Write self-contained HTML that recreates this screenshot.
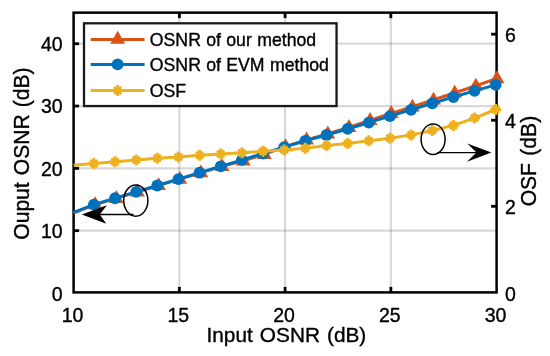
<!DOCTYPE html>
<html><head><meta charset="utf-8"><title>OSNR chart</title><style>html,body{margin:0;padding:0;background:#fff}svg{display:block}</style></head><body>
<svg width="550" height="356" viewBox="0 0 550 356" font-family="Liberation Sans, Arial, sans-serif"><style>text{stroke:#000;stroke-width:0.35px;fill:#000}</style>
<rect width="550" height="356" fill="#fff"/>
<line x1="179.35" y1="12.65" x2="179.35" y2="292.4" stroke="#000" stroke-opacity="0.15" stroke-width="2.2"/>
<line x1="285.10" y1="12.65" x2="285.10" y2="292.4" stroke="#000" stroke-opacity="0.15" stroke-width="2.2"/>
<line x1="390.85" y1="12.65" x2="390.85" y2="292.4" stroke="#000" stroke-opacity="0.15" stroke-width="2.2"/>
<line x1="73.6" y1="230.68" x2="496.6" y2="230.68" stroke="#000" stroke-opacity="0.15" stroke-width="2.2"/>
<line x1="73.6" y1="168.36" x2="496.6" y2="168.36" stroke="#000" stroke-opacity="0.15" stroke-width="2.2"/>
<line x1="73.6" y1="106.04" x2="496.6" y2="106.04" stroke="#000" stroke-opacity="0.15" stroke-width="2.2"/>
<line x1="73.6" y1="43.72" x2="496.6" y2="43.72" stroke="#000" stroke-opacity="0.15" stroke-width="2.2"/>
<rect x="73.6" y="12.65" width="423.00" height="279.75" fill="none" stroke="#000" stroke-width="2.5"/>
<line x1="179.35" y1="292.4" x2="179.35" y2="286.9" stroke="#000" stroke-width="2.8"/>
<line x1="179.35" y1="12.65" x2="179.35" y2="18.15" stroke="#000" stroke-width="2.8"/>
<line x1="285.10" y1="292.4" x2="285.10" y2="286.9" stroke="#000" stroke-width="2.8"/>
<line x1="285.10" y1="12.65" x2="285.10" y2="18.15" stroke="#000" stroke-width="2.8"/>
<line x1="390.85" y1="292.4" x2="390.85" y2="286.9" stroke="#000" stroke-width="2.8"/>
<line x1="390.85" y1="12.65" x2="390.85" y2="18.15" stroke="#000" stroke-width="2.8"/>
<line x1="73.6" y1="230.68" x2="79.1" y2="230.68" stroke="#000" stroke-width="2.8"/>
<line x1="73.6" y1="168.36" x2="79.1" y2="168.36" stroke="#000" stroke-width="2.8"/>
<line x1="73.6" y1="106.04" x2="79.1" y2="106.04" stroke="#000" stroke-width="2.8"/>
<line x1="73.6" y1="43.72" x2="79.1" y2="43.72" stroke="#000" stroke-width="2.8"/>
<line x1="496.6" y1="206.32" x2="491.1" y2="206.32" stroke="#000" stroke-width="2.8"/>
<line x1="496.6" y1="120.25" x2="491.1" y2="120.25" stroke="#000" stroke-width="2.8"/>
<line x1="496.6" y1="34.17" x2="491.1" y2="34.17" stroke="#000" stroke-width="2.8"/>
<polyline points="73.60,213.23 93.85,204.97 115.00,198.59 136.15,192.20 157.30,185.81 178.45,179.42 199.60,173.03 220.75,166.65 241.90,161.19 263.05,154.81 284.20,146.86 305.35,140.16 326.50,134.08 347.65,127.70 368.80,120.69 389.95,113.67 411.10,107.29 432.25,100.28 453.40,93.26 474.55,86.25 495.70,78.93" fill="none" stroke="#d95319" stroke-width="3.0" stroke-linejoin="round"/>
<polygon points="95.15,196.37 87.70,209.27 102.60,209.27" fill="#d95319"/>
<polygon points="116.30,189.99 108.85,202.89 123.75,202.89" fill="#d95319"/>
<polygon points="137.45,183.60 130.00,196.50 144.90,196.50" fill="#d95319"/>
<polygon points="158.60,177.21 151.15,190.11 166.05,190.11" fill="#d95319"/>
<polygon points="179.75,170.82 172.30,183.72 187.20,183.72" fill="#d95319"/>
<polygon points="200.90,164.43 193.45,177.33 208.35,177.33" fill="#d95319"/>
<polygon points="222.05,158.05 214.60,170.95 229.50,170.95" fill="#d95319"/>
<polygon points="243.20,152.59 235.75,165.49 250.65,165.49" fill="#d95319"/>
<polygon points="264.35,146.21 256.90,159.11 271.80,159.11" fill="#d95319"/>
<polygon points="285.50,138.26 278.05,151.16 292.95,151.16" fill="#d95319"/>
<polygon points="306.65,131.56 299.20,144.46 314.10,144.46" fill="#d95319"/>
<polygon points="327.80,125.48 320.35,138.38 335.25,138.38" fill="#d95319"/>
<polygon points="348.95,119.10 341.50,132.00 356.40,132.00" fill="#d95319"/>
<polygon points="370.10,112.09 362.65,124.99 377.55,124.99" fill="#d95319"/>
<polygon points="391.25,105.07 383.80,117.97 398.70,117.97" fill="#d95319"/>
<polygon points="412.40,98.69 404.95,111.59 419.85,111.59" fill="#d95319"/>
<polygon points="433.55,91.68 426.10,104.58 441.00,104.58" fill="#d95319"/>
<polygon points="454.70,84.66 447.25,97.56 462.15,97.56" fill="#d95319"/>
<polygon points="475.85,77.65 468.40,90.55 483.30,90.55" fill="#d95319"/>
<polygon points="497.00,70.33 489.55,83.23 504.45,83.23" fill="#d95319"/>
<polyline points="73.60,212.30 93.85,204.66 115.00,198.27 136.15,191.89 157.30,185.50 178.45,179.11 199.60,172.72 220.75,166.33 241.90,159.95 263.05,153.56 284.20,147.17 305.35,140.78 326.50,135.02 347.65,128.94 368.80,122.55 389.95,116.17 411.10,109.78 432.25,103.39 453.40,97.00 474.55,90.93 495.70,84.85" fill="none" stroke="#0072bd" stroke-width="3.0" stroke-linejoin="round"/>
<circle cx="93.85" cy="204.66" r="5.9" fill="#0072bd"/>
<circle cx="115.00" cy="198.27" r="5.9" fill="#0072bd"/>
<circle cx="136.15" cy="191.89" r="5.9" fill="#0072bd"/>
<circle cx="157.30" cy="185.50" r="5.9" fill="#0072bd"/>
<circle cx="178.45" cy="179.11" r="5.9" fill="#0072bd"/>
<circle cx="199.60" cy="172.72" r="5.9" fill="#0072bd"/>
<circle cx="220.75" cy="166.33" r="5.9" fill="#0072bd"/>
<circle cx="241.90" cy="159.95" r="5.9" fill="#0072bd"/>
<circle cx="263.05" cy="153.56" r="5.9" fill="#0072bd"/>
<circle cx="284.20" cy="147.17" r="5.9" fill="#0072bd"/>
<circle cx="305.35" cy="140.78" r="5.9" fill="#0072bd"/>
<circle cx="326.50" cy="135.02" r="5.9" fill="#0072bd"/>
<circle cx="347.65" cy="128.94" r="5.9" fill="#0072bd"/>
<circle cx="368.80" cy="122.55" r="5.9" fill="#0072bd"/>
<circle cx="389.95" cy="116.17" r="5.9" fill="#0072bd"/>
<circle cx="411.10" cy="109.78" r="5.9" fill="#0072bd"/>
<circle cx="432.25" cy="103.39" r="5.9" fill="#0072bd"/>
<circle cx="453.40" cy="97.00" r="5.9" fill="#0072bd"/>
<circle cx="474.55" cy="90.93" r="5.9" fill="#0072bd"/>
<circle cx="495.70" cy="84.85" r="5.9" fill="#0072bd"/>
<polyline points="73.60,165.22 93.85,163.50 115.00,161.78 136.15,160.06 157.30,158.34 178.45,157.04 199.60,155.32 220.75,154.03 241.90,152.87 263.05,151.15 284.20,149.94 305.35,148.22 326.50,145.55 347.65,143.40 368.80,140.82 389.95,138.32 411.10,134.88 432.25,130.58 453.40,125.41 474.55,118.09 495.70,109.49" fill="none" stroke="#edb120" stroke-width="3.0" stroke-linejoin="round"/>
<path d="M88.35,163.50L99.35,163.50M90.35,160.00L97.35,167.00M93.85,158.00L93.85,169.00M97.35,160.00L90.35,167.00" stroke="#edb120" stroke-width="2.8" fill="none"/>
<path d="M109.50,161.78L120.50,161.78M111.50,158.28L118.50,165.28M115.00,156.28L115.00,167.28M118.50,158.28L111.50,165.28" stroke="#edb120" stroke-width="2.8" fill="none"/>
<path d="M130.65,160.06L141.65,160.06M132.65,156.56L139.65,163.56M136.15,154.56L136.15,165.56M139.65,156.56L132.65,163.56" stroke="#edb120" stroke-width="2.8" fill="none"/>
<path d="M151.80,158.34L162.80,158.34M153.80,154.84L160.80,161.84M157.30,152.84L157.30,163.84M160.80,154.84L153.80,161.84" stroke="#edb120" stroke-width="2.8" fill="none"/>
<path d="M172.95,157.04L183.95,157.04M174.95,153.54L181.95,160.54M178.45,151.54L178.45,162.54M181.95,153.54L174.95,160.54" stroke="#edb120" stroke-width="2.8" fill="none"/>
<path d="M194.10,155.32L205.10,155.32M196.10,151.82L203.10,158.82M199.60,149.82L199.60,160.82M203.10,151.82L196.10,158.82" stroke="#edb120" stroke-width="2.8" fill="none"/>
<path d="M215.25,154.03L226.25,154.03M217.25,150.53L224.25,157.53M220.75,148.53L220.75,159.53M224.25,150.53L217.25,157.53" stroke="#edb120" stroke-width="2.8" fill="none"/>
<path d="M236.40,152.87L247.40,152.87M238.40,149.37L245.40,156.37M241.90,147.37L241.90,158.37M245.40,149.37L238.40,156.37" stroke="#edb120" stroke-width="2.8" fill="none"/>
<path d="M257.55,151.15L268.55,151.15M259.55,147.65L266.55,154.65M263.05,145.65L263.05,156.65M266.55,147.65L259.55,154.65" stroke="#edb120" stroke-width="2.8" fill="none"/>
<path d="M278.70,149.94L289.70,149.94M280.70,146.44L287.70,153.44M284.20,144.44L284.20,155.44M287.70,146.44L280.70,153.44" stroke="#edb120" stroke-width="2.8" fill="none"/>
<path d="M299.85,148.22L310.85,148.22M301.85,144.72L308.85,151.72M305.35,142.72L305.35,153.72M308.85,144.72L301.85,151.72" stroke="#edb120" stroke-width="2.8" fill="none"/>
<path d="M321.00,145.55L332.00,145.55M323.00,142.05L330.00,149.05M326.50,140.05L326.50,151.05M330.00,142.05L323.00,149.05" stroke="#edb120" stroke-width="2.8" fill="none"/>
<path d="M342.15,143.40L353.15,143.40M344.15,139.90L351.15,146.90M347.65,137.90L347.65,148.90M351.15,139.90L344.15,146.90" stroke="#edb120" stroke-width="2.8" fill="none"/>
<path d="M363.30,140.82L374.30,140.82M365.30,137.32L372.30,144.32M368.80,135.32L368.80,146.32M372.30,137.32L365.30,144.32" stroke="#edb120" stroke-width="2.8" fill="none"/>
<path d="M384.45,138.32L395.45,138.32M386.45,134.82L393.45,141.82M389.95,132.82L389.95,143.82M393.45,134.82L386.45,141.82" stroke="#edb120" stroke-width="2.8" fill="none"/>
<path d="M405.60,134.88L416.60,134.88M407.60,131.38L414.60,138.38M411.10,129.38L411.10,140.38M414.60,131.38L407.60,138.38" stroke="#edb120" stroke-width="2.8" fill="none"/>
<path d="M426.75,130.58L437.75,130.58M428.75,127.08L435.75,134.08M432.25,125.08L432.25,136.08M435.75,127.08L428.75,134.08" stroke="#edb120" stroke-width="2.8" fill="none"/>
<path d="M447.90,125.41L458.90,125.41M449.90,121.91L456.90,128.91M453.40,119.91L453.40,130.91M456.90,121.91L449.90,128.91" stroke="#edb120" stroke-width="2.8" fill="none"/>
<path d="M469.05,118.09L480.05,118.09M471.05,114.59L478.05,121.59M474.55,112.59L474.55,123.59M478.05,114.59L471.05,121.59" stroke="#edb120" stroke-width="2.8" fill="none"/>
<path d="M490.20,109.49L501.20,109.49M492.20,105.99L499.20,112.99M495.70,103.99L495.70,114.99M499.20,105.99L492.20,112.99" stroke="#edb120" stroke-width="2.8" fill="none"/>
<text x="72.60" y="321.9" font-size="19.5" text-anchor="middle">10</text>
<text x="178.35" y="321.9" font-size="19.5" text-anchor="middle">15</text>
<text x="284.10" y="321.9" font-size="19.5" text-anchor="middle">20</text>
<text x="389.85" y="321.9" font-size="19.5" text-anchor="middle">25</text>
<text x="495.60" y="321.9" font-size="19.5" text-anchor="middle">30</text>
<text x="62.7" y="300.90" font-size="19.5" text-anchor="end">0</text>
<text x="62.7" y="238.18" font-size="19.5" text-anchor="end">10</text>
<text x="62.7" y="175.66" font-size="19.5" text-anchor="end">20</text>
<text x="62.7" y="113.34" font-size="19.5" text-anchor="end">30</text>
<text x="62.7" y="51.02" font-size="19.5" text-anchor="end">40</text>
<text x="504.9" y="301.00" font-size="19.5" text-anchor="start">0</text>
<text x="504.9" y="214.12" font-size="19.5" text-anchor="start">2</text>
<text x="504.9" y="128.05" font-size="19.5" text-anchor="start">4</text>
<text x="504.9" y="41.97" font-size="19.5" text-anchor="start">6</text>
<text x="286.4" y="342.4" font-size="20.8" word-spacing="1.3" text-anchor="middle">Input OSNR (dB)</text>
<text transform="translate(29,153.6) rotate(-90) scale(1,1.04)" font-size="21.05" word-spacing="1.3" text-anchor="middle">Ouput OSNR (dB)</text>
<text transform="translate(536.3,161.1) rotate(-90) scale(1,1.04)" font-size="21.1" word-spacing="1.5" text-anchor="middle">OSF (dB)</text>
<rect x="84.0" y="23.3" width="252.55" height="82.75" fill="#fff" stroke="#1a1a1a" stroke-width="2.3"/>
<line x1="90.7" y1="39.4" x2="144.6" y2="39.4" stroke="#d95319" stroke-width="3.0"/>
<polygon points="117.70,30.80 110.25,43.70 125.15,43.70" fill="#d95319"/>
<text x="149.8" y="45.80" font-size="17.7" word-spacing="0.4">OSNR of our method</text>
<line x1="90.7" y1="64.4" x2="144.6" y2="64.4" stroke="#0072bd" stroke-width="3.0"/>
<circle cx="117.6" cy="64.4" r="5.9" fill="#0072bd"/>
<text x="149.8" y="71.40" font-size="17.7" word-spacing="0.4">OSNR of EVM method</text>
<line x1="90.7" y1="90.4" x2="144.6" y2="90.4" stroke="#edb120" stroke-width="3.0"/>
<path d="M112.20,90.40L123.20,90.40M114.20,86.90L121.20,93.90M117.70,84.90L117.70,95.90M121.20,86.90L114.20,93.90" stroke="#edb120" stroke-width="2.8" fill="none"/>
<text x="149.8" y="96.80" font-size="17.7" word-spacing="0.4">OSF</text>
<ellipse cx="135.8" cy="200.6" rx="12.1" ry="15.6" fill="none" stroke="#000" stroke-width="1.5"/>
<line x1="133.5" y1="214.5" x2="99" y2="214.5" stroke="#000" stroke-width="1.4"/>
<polygon points="81.8,214.5 106.9,205.3 99.8,214.5 106.3,223.8" fill="#000"/>
<ellipse cx="433.1" cy="139.2" rx="12.0" ry="15.3" fill="none" stroke="#000" stroke-width="1.5"/>
<line x1="437" y1="152.6" x2="477" y2="152.6" stroke="#000" stroke-width="1.4"/>
<polygon points="491.4,152.6 467.3,143.6 476.5,152.6 467.0,161.8" fill="#000"/>
</svg>
</body></html>
